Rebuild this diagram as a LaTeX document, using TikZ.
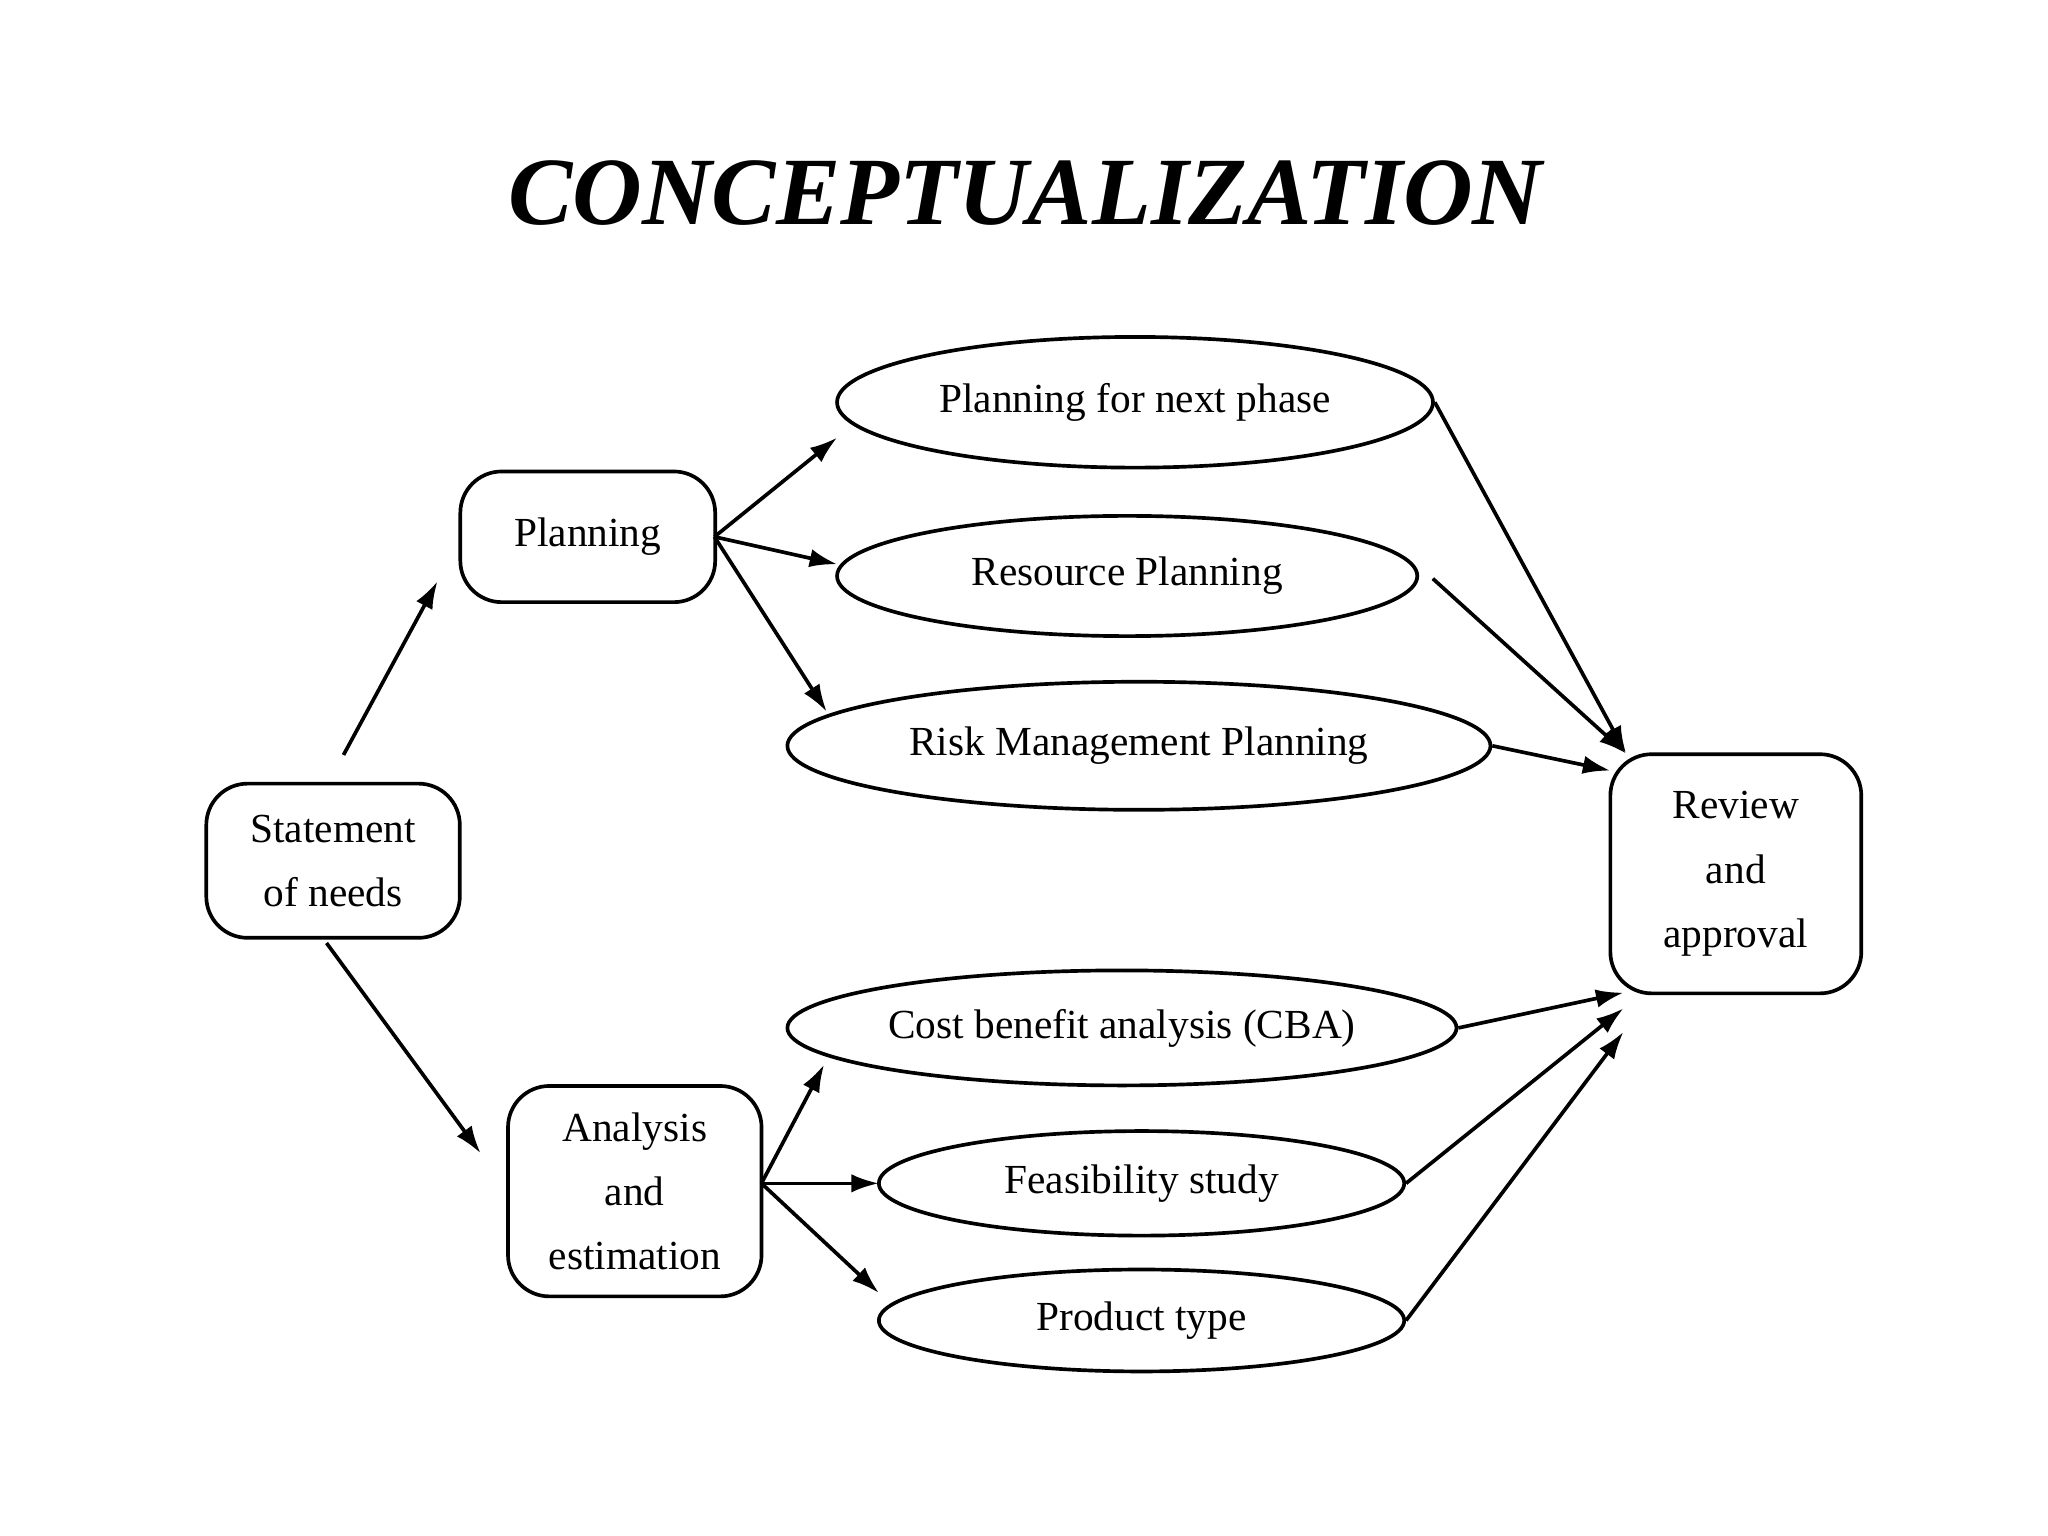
\documentclass[tikz,border=0pt]{standalone}
\usepackage{fontspec}
\setmainfont{Liberation Serif}
\usetikzlibrary{shapes.geometric,arrows.meta}
\begin{document}
\begin{tikzpicture}[x=0.01cm,y=-0.01cm,
  box/.style={draw,thick,rounded corners=9pt,align=center,font=\fontsize{9}{14}\selectfont,inner sep=0pt},
  ell/.style={draw,thick,ellipse,inner sep=0pt,font=\fontsize{9}{11}\selectfont},
  arr/.style={-{Latex[length=6pt,width=4pt]},thick}]
\useasboundingbox (0,0) rectangle (1568,1176);
\node[font=\fontsize{21}{26}\selectfont\bfseries\itshape] (title) at (785,148) {CONCEPTUALIZATION};
\node[box,minimum width=1.94cm,minimum height=1.18cm] (stmt) at (255,659) {Statement\\of needs};
\node[box,minimum width=1.95cm,minimum height=1.0cm] (plan) at (450,411) {Planning};
\node[box,minimum width=1.94cm,minimum height=1.61cm] (ana) at (486,912) {Analysis\\and\\estimation};
\node[box,minimum width=1.92cm,minimum height=1.83cm] (rev) at (1329,669) {Review\\and\\approval};
\node[ell,minimum width=4.56cm,minimum height=1.0cm] (pn) at (869,308) {Planning for next phase};
\node[ell,minimum width=4.44cm,minimum height=0.92cm] (rp) at (863,441) {Resource Planning};
\node[ell,minimum width=5.38cm,minimum height=0.98cm] (rm) at (872,571) {Risk Management Planning};
\node[ell,minimum width=5.12cm,minimum height=0.88cm] (cba) at (859,787) {Cost benefit analysis (CBA)};
\node[ell,minimum width=4.02cm,minimum height=0.80cm] (fs) at (874,906) {Feasibility study};
\node[ell,minimum width=4.02cm,minimum height=0.78cm] (pt) at (874,1011) {Product type};
\coordinate (s1) at (263,578); \coordinate (p1) at (335,445);
\coordinate (s2) at (250,722); \coordinate (a1) at (368,883);
\coordinate (pe) at (547,411); \coordinate (ae) at (583,906);
\coordinate (r1) at (1245,577); \coordinate (r2) at (1233,590);
\coordinate (r3) at (1243,760); \coordinate (r4) at (1243,772); \coordinate (r5) at (1243,790);
\draw[arr] (s1) -- (p1);
\draw[arr] (s2) -- (a1);
\draw[arr] (pe) -- (641,335);
\draw[arr] (pe) -- (641,432);
\draw[arr] (pe) -- (633,545);
\draw[arr] (ae) -- (631,815);
\draw[arr] (ae) -- (673,906);
\draw[arr] (ae) -- (673,990);
\draw[arr] (pn.east) -- (r1);
\draw[arr] (1097,443) -- (r1);
\draw[arr] (rm.east) -- (r2);
\draw[arr] (cba.east) -- (r3);
\draw[arr] (fs.east) -- (r4);
\draw[arr] (pt.east) -- (r5);
\end{tikzpicture}
\end{document}
